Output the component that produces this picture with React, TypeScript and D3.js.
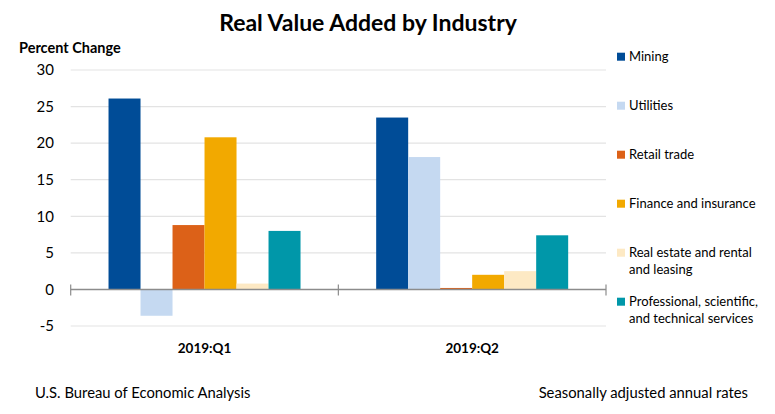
import React from 'react'
import * as d3 from 'd3'

// quarters on the x axis
const quarters = ['2019:Q1', '2019:Q2']

// industries, in legend / bar order
const industries = [
  'Mining',
  'Utilities',
  'Retail trade',
  'Finance and insurance',
  'Real estate and rental and leasing',
  'Professional, scientific, and technical services'
]

// legend text split over lines
const legendLines = [
  ['Mining'],
  ['Utilities'],
  ['Retail trade'],
  ['Finance and insurance'],
  ['Real estate and rental', 'and leasing'],
  ['Professional, scientific,', 'and technical services']
]

const colors = ['#004c97', '#c5d9f1', '#dc6118', '#f2a900', '#fde9c4', '#0097a9']

// percent change per industry, one value per quarter
const q1Values = [26.1, -3.6, 8.8, 20.8, 0.8, 8.0]
const q2Values = [23.5, 18.1, 0.2, 2.0, 2.5, 7.4]

const yTicks = [30, 25, 20, 15, 10, 5, 0, -5]

const font = 'Lato, "Open Sans", sans-serif'

export default function App() {
  const width = 775
  const height = 414
  const left = 70.7
  const right = 606
  const top = 70
  const bottom = 326

  const x = d3.scaleBand<string>().domain(quarters).range([left, right]).paddingInner(0).paddingOuter(0)
  const y = d3.scaleLinear().domain([-5, 30]).range([bottom, top])

  const groupW = 192
  const inner = d3.scaleBand<string>().domain(industries).range([0, groupW]).padding(0)
  const offset = (x.bandwidth() - groupW) / 2

  const series = [q1Values, q2Values]

  return (
    <svg width={width} height={height} style={{ position: 'absolute', left: 0, top: 0 }}>
      <rect width={width} height={height} fill="#fff" />
      <text x={368} y={31} textAnchor="middle" fontFamily={font} fontWeight="bold" fontSize={23} fill="#000">
        Real Value Added by Industry
      </text>
      <text x={19} y={53} fontFamily={font} fontWeight="bold" fontSize={14.5} fill="#000">
        Percent Change
      </text>

      {/* gridlines and y labels */}
      {yTicks.map(t => (
        <g key={t}>
          {t !== 0 && (
            <line x1={left} x2={right} y1={y(t)} y2={y(t)} stroke="#e3e3e3" strokeWidth={1.2} />
          )}
          <text x={54} y={y(t)} dy="0.35em" textAnchor="end" fontFamily={font} fontSize={15} fill="#000">
            {t}
          </text>
        </g>
      ))}

      {/* bars */}
      {quarters.map((q, qi) => (
        <g key={q} transform={`translate(${(x(q) as number) + offset},0)`}>
          {industries.map((ind, i) => {
            const v = series[qi][i]
            return (
              <rect
                key={ind}
                x={inner(ind)}
                width={inner.bandwidth()}
                y={y(Math.max(0, v))}
                height={Math.abs(y(v) - y(0))}
                fill={colors[i]}
              />
            )
          })}
        </g>
      ))}

      {/* zero line with category ticks */}
      <line x1={left} x2={right} y1={y(0)} y2={y(0)} stroke="#8c8c8c" strokeWidth={1.5} />
      {[...quarters.map(q => x(q) as number), right].map((tx, i) => (
        <line key={i} x1={tx} x2={tx} y1={y(0) - 5} y2={y(0) + 6} stroke="#8c8c8c" strokeWidth={1.2} />
      ))}

      {/* category labels */}
      {quarters.map(q => (
        <text
          key={q}
          x={(x(q) as number) + x.bandwidth() / 2}
          y={353}
          textAnchor="middle"
          fontFamily={font}
          fontWeight="bold"
          fontSize={13.5}
          fill="#000"
        >
          {q}
        </text>
      ))}

      {/* legend */}
      {legendLines.map((lines, i) => {
        const cy = 56.7 + i * 49
        return (
          <g key={i}>
            <rect x={617} y={cy - 4} width={8} height={8} fill={colors[i]} />
            {lines.map((ln, j) => (
              <text key={j} x={629} y={cy + j * 17} dy="0.35em" fontFamily={font} fontSize={13} fill="#000">
                {ln}
              </text>
            ))}
          </g>
        )
      })}

      {/* footer */}
      <text x={35} y={398} fontFamily={font} fontSize={14.8} fill="#000">
        U.S. Bureau of Economic Analysis
      </text>
      <text x={748} y={398} textAnchor="end" fontFamily={font} fontSize={14.8} fill="#000">
        Seasonally adjusted annual rates
      </text>
    </svg>
  )
}
